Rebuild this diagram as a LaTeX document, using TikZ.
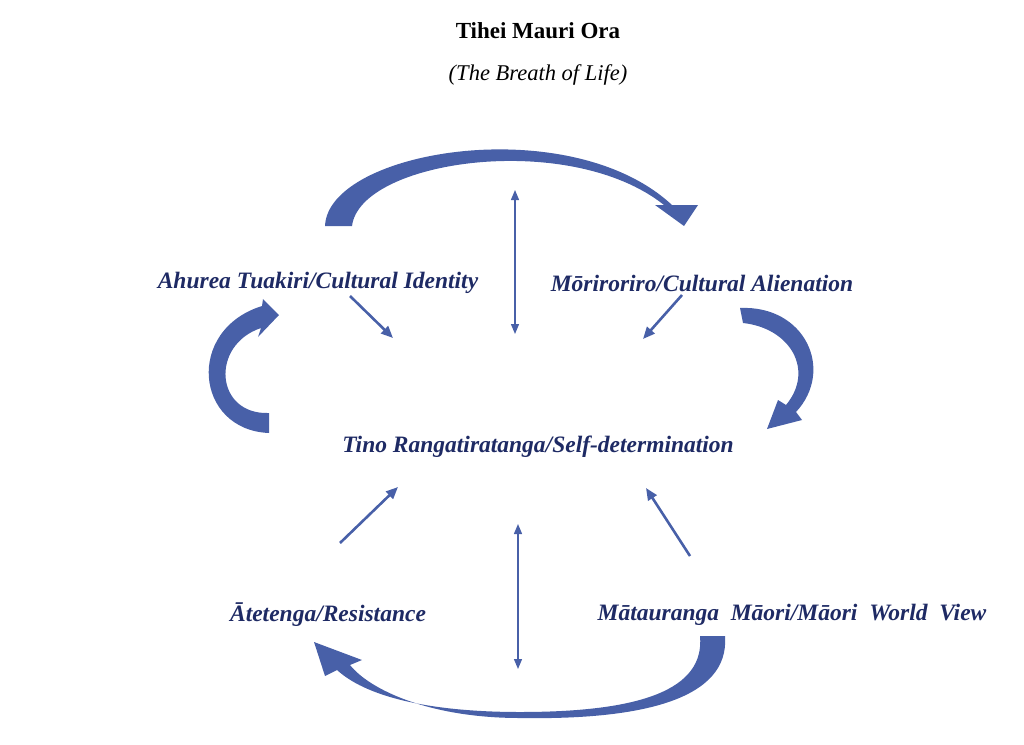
\documentclass[tikz,border=0pt]{standalone}
\usepackage{fontspec}
\setmainfont{Liberation Serif}
\usetikzlibrary{arrows.meta}
\definecolor{navy}{RGB}{30,42,100}
\definecolor{arr}{RGB}{72,96,168}
\begin{document}
\begin{tikzpicture}[x=1pt,y=-1pt,
  lab/.style={font=\fontsize{23.5}{26}\selectfont\bfseries\itshape,text=navy,inner sep=1pt},
  thin/.style={draw=arr,line width=2.6pt,-{Triangle[length=12pt,width=10pt]}},
  dbl/.style={draw=arr,line width=1.3pt,{Triangle[length=10pt,width=8pt]}-{Triangle[length=10pt,width=8pt]}},
  big/.style={fill=arr,draw=none}]
\useasboundingbox (0,0) rectangle (1024,744);
\node[font=\fontsize{23}{26}\selectfont\bfseries] (title) at (538,31) {Tihei Mauri Ora};
\node[font=\fontsize{22.5}{26}\selectfont\itshape] (sub) at (538,75) {(The Breath of Life)};
\node[lab] (ah) at (318,283) {Ahurea Tuakiri/Cultural Identity};
\node[lab] (mo) at (702,283) {Mōriroriro/Cultural Alienation};
\node[lab] (ti) at (538,447) {Tino Rangatiratanga/Self-determination};
\node[lab] (at) at (328,615) {Ātetenga/Resistance};
\node[lab] (ma) at (792,615) {Mātauranga\ \ Māori/Māori\ \ World\ \ View};
% straight arrows
\coordinate (a1) at (350,296); \coordinate (a2) at (393,338);
\coordinate (b1) at (682,295); \coordinate (b2) at (643,339);
\coordinate (c1) at (515,190); \coordinate (c2) at (515,334);
\coordinate (d1) at (340,543); \coordinate (d2) at (398,487);
\coordinate (e1) at (690,556); \coordinate (e2) at (646,488);
\coordinate (f1) at (518,524); \coordinate (f2) at (518,669);
\draw[thin] (a1) -- (a2);
\draw[thin] (b1) -- (b2);
\draw[dbl] (c1) -- (c2);
\draw[thin] (d1) -- (d2);
\draw[thin] (e1) -- (e2);
\draw[dbl] (f1) -- (f2);
% top curved arrow
\path[big] (325,226) .. controls (328,150) and (570,110) .. (672,205)
  -- (698,205) -- (684,226) -- (655,205) -- (664,205)
  .. controls (570,130) and (360,160) .. (352,226) -- cycle;
% right curved arrow
\path[big] (740,308) .. controls (805,305) and (835,370) .. (796,412)
  -- (802,420) -- (767,429) -- (778,400) -- (786,405)
  .. controls (815,370) and (790,328) .. (743,323) -- cycle;
% left curved arrow
\path[big] (269,433) .. controls (195,430) and (185,330) .. (262,306)
  -- (263,299) -- (279,315) -- (258,337) -- (261,328)
  .. controls (210,345) and (215,415) .. (269,413) -- cycle;
% bottom curved arrow
\path[big] (725,636) .. controls (730,700) and (640,720) .. (520,718)
  .. controls (430,718) and (370,690) .. (350,665)
  -- (362,660) -- (314,642) -- (325,676) -- (337,670)
  .. controls (370,700) and (440,712) .. (520,712)
  .. controls (640,712) and (705,690) .. (700,636) -- cycle;
\end{tikzpicture}
\end{document}
